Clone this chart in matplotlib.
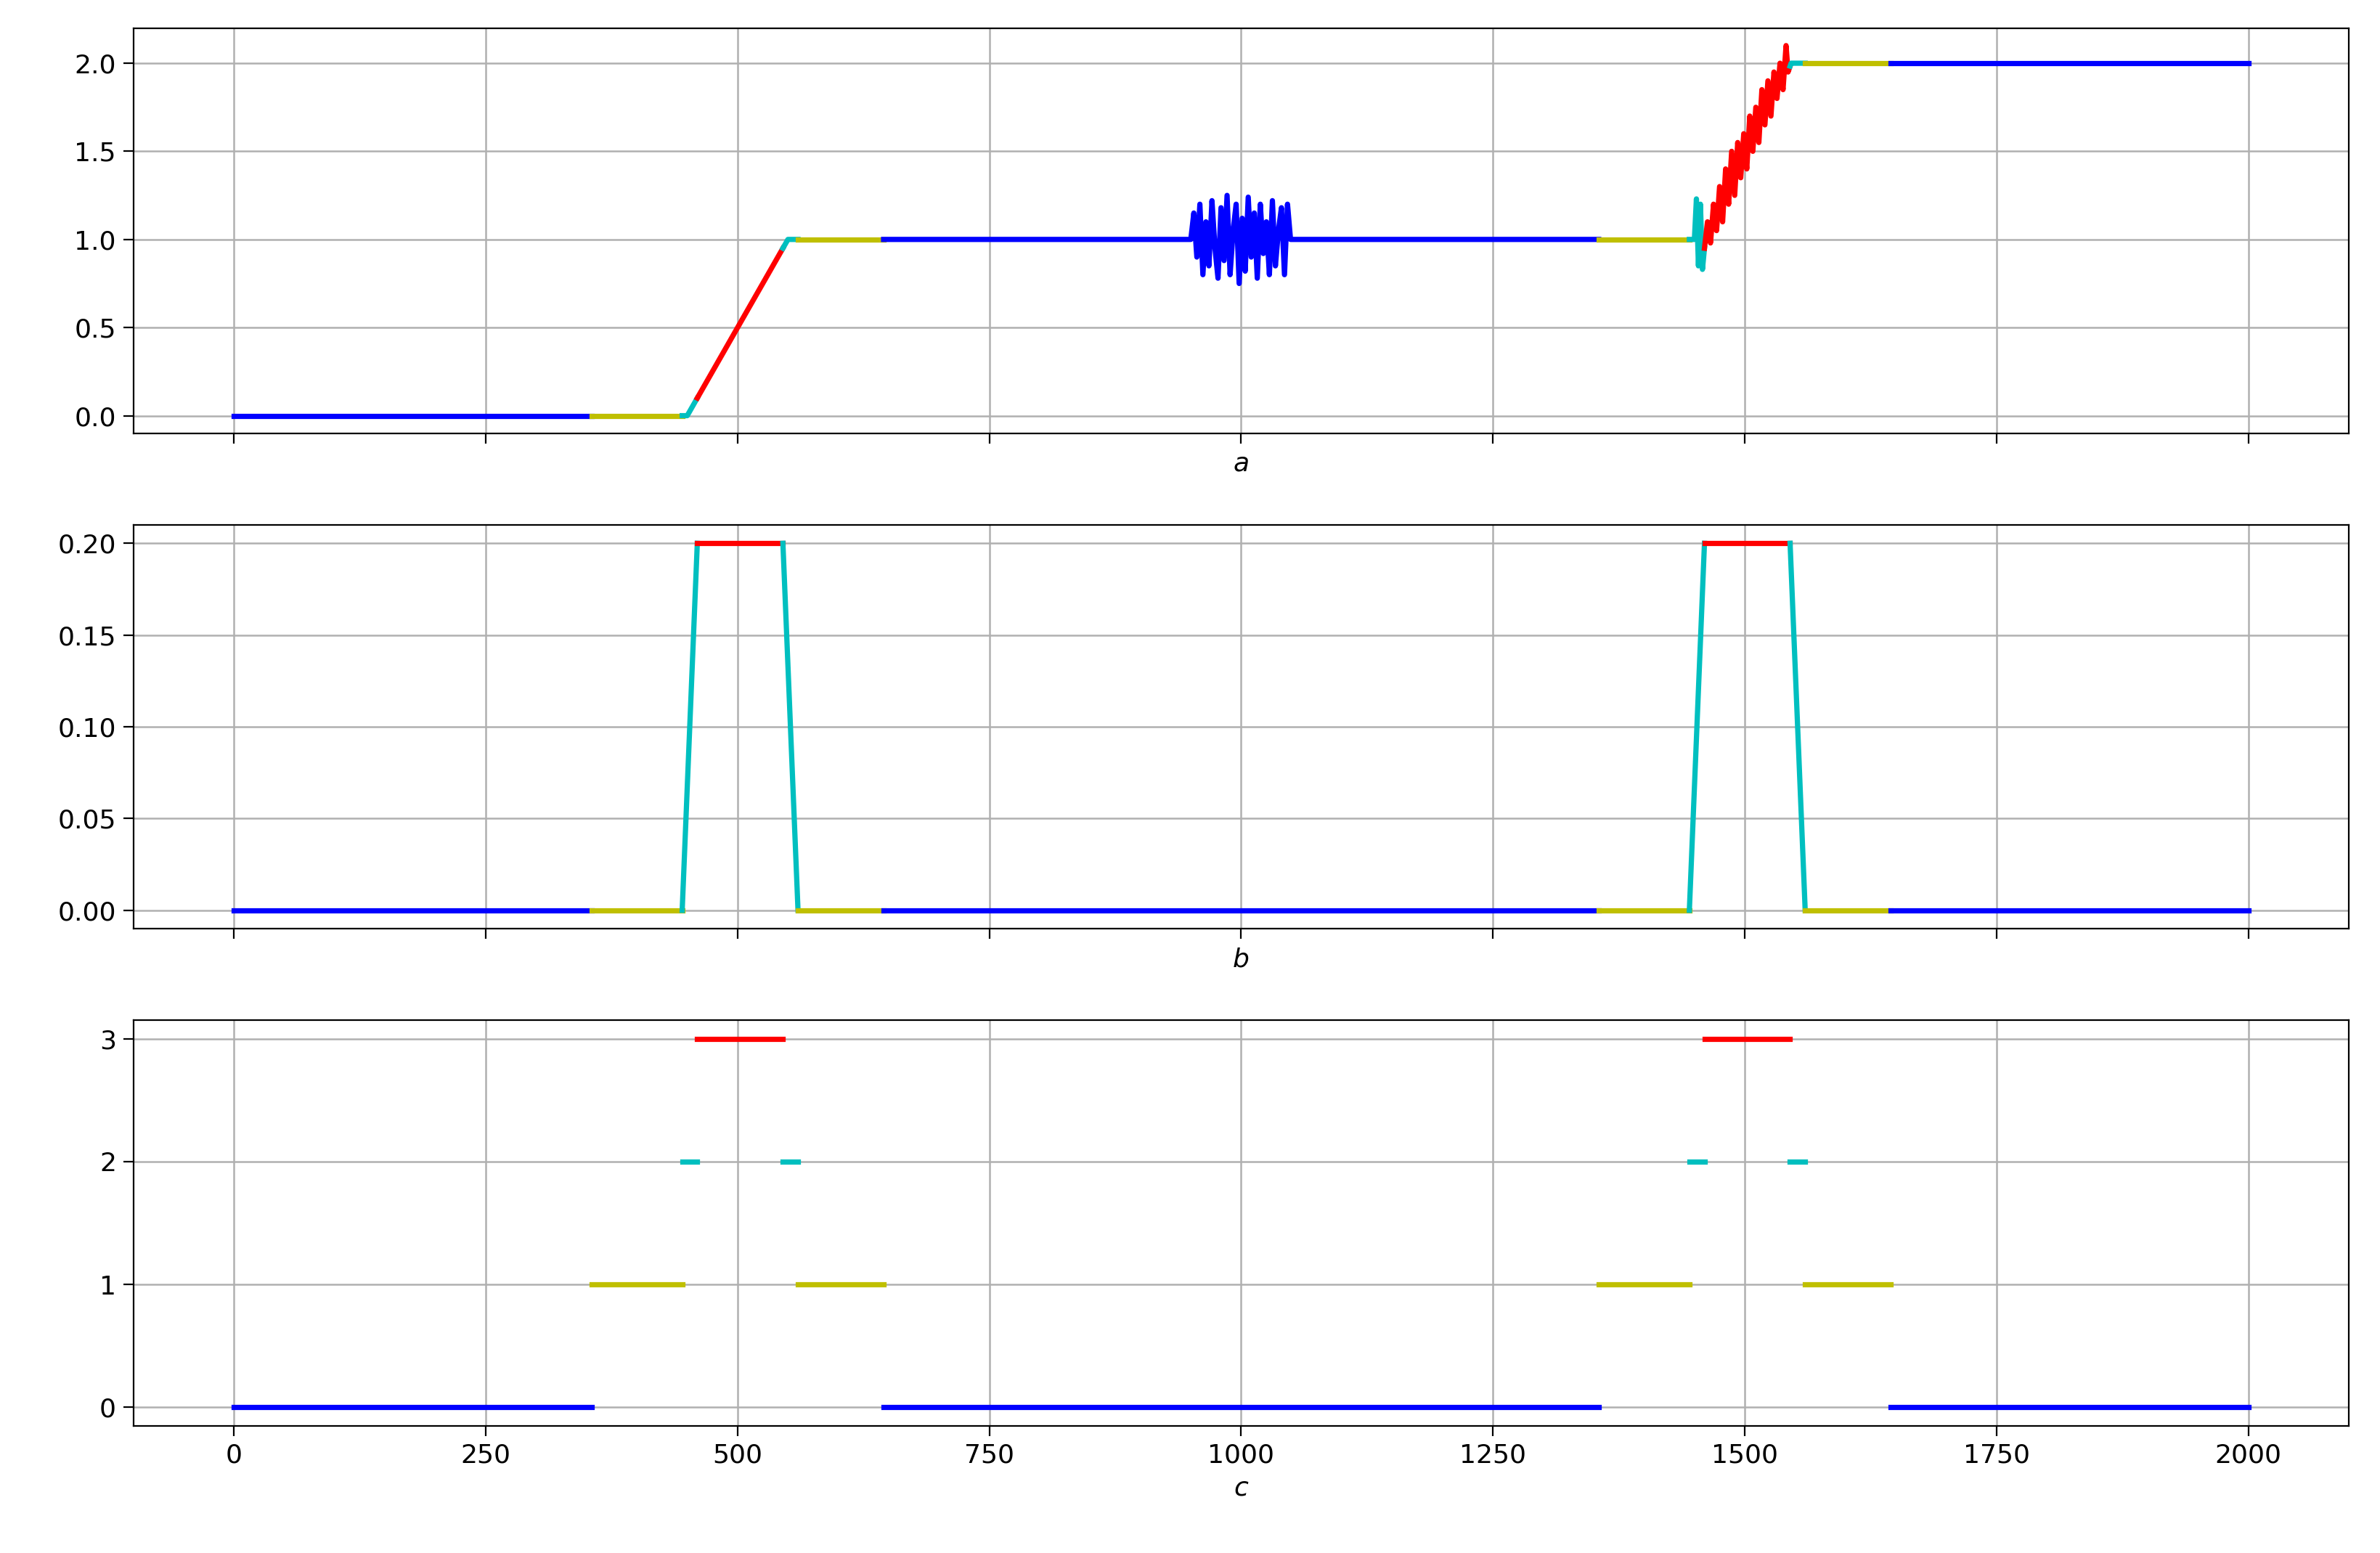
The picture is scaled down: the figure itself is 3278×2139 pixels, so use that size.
import numpy as np
import matplotlib
matplotlib.use("Agg")
import matplotlib.pyplot as plt

# state segments (start, end, state)
seg_start = [0, 355, 445, 460, 545, 560, 645, 1355, 1445, 1460, 1545, 1560, 1645]
seg_end   = [355, 445, 460, 545, 560, 645, 1355, 1445, 1460, 1545, 1560, 1645, 2000]
seg_state = [0, 1, 2, 3, 2, 1, 0, 1, 2, 3, 2, 1, 0]
state_colors = ['b', 'y', 'c', 'r']

# signal a keypoints
a_x = [0, 450, 550, 950, 1450, 1455, 1545, 2000]
a_y = [0.0, 0.0, 1.0, 1.0, 1.0, 1.0, 2.0, 2.0]
# noise around 950-1050 (blue)
n1_x = list(range(950, 1052, 3))
n1_off = [0.0, 0.15, -0.1, 0.2, -0.2, 0.1, -0.15, 0.22, -0.05, -0.22, 0.18, -0.12, 0.25,
          -0.2, 0.05, 0.2, -0.25, 0.12, -0.18, 0.24, -0.1, 0.15, -0.22, 0.2, -0.08, 0.1,
          -0.2, 0.22, -0.15, 0.05, 0.18, -0.2, 0.2, 0.0]
# noise on ramp 1450-1550
n2_x = [1450, 1452, 1454, 1456, 1458, 1460, 1463, 1466, 1469, 1472, 1475, 1478, 1481, 1484,
        1487, 1490, 1493, 1496, 1499, 1502, 1505, 1508, 1511, 1514, 1517, 1520, 1523, 1526,
        1529, 1532, 1535, 1538, 1541, 1543, 1546]
n2_y = [1.0, 1.23, 0.85, 1.2, 0.83, 0.95, 1.1, 0.98, 1.2, 1.05, 1.3, 1.1, 1.4, 1.2,
        1.5, 1.25, 1.55, 1.35, 1.6, 1.4, 1.7, 1.5, 1.75, 1.55, 1.85, 1.65, 1.9, 1.7,
        1.95, 1.8, 2.0, 1.85, 2.1, 1.95, 2.0]

# signal b keypoints
b_x = [0, 445, 460, 545, 560, 1445, 1460, 1545, 1560, 2000]
b_y = [0.0, 0.0, 0.2, 0.2, 0.0, 0.0, 0.2, 0.2, 0.0, 0.0]

# assemble signal a
ax_pts = list(a_x) + n1_x + n2_x
ay_pts = list(a_y) + [1.0 + o for o in n1_off] + n2_y
order = np.argsort(ax_pts, kind="stable")
A_x = np.array(ax_pts, float)[order]
A_y = np.array(ay_pts, float)[order]
keep = ~(((A_x > 950) & (A_x < 1051)) & ~np.isin(A_x, n1_x))
keep &= ~(((A_x >= 1450) & (A_x <= 1546)) & ~np.isin(A_x, n2_x))
A_x, A_y = A_x[keep], A_y[keep]
_, uidx = np.unique(A_x, return_index=True)
A_x, A_y = A_x[uidx], A_y[uidx]
B_x = np.array(b_x, float)
B_y = np.array(b_y, float)


def segment(xs, ys, s, e):
    m = (xs > s) & (xs < e)
    sx = np.concatenate([[s], xs[m], [e]])
    sy = np.concatenate([[np.interp(s, xs, ys)], ys[m], [np.interp(e, xs, ys)]])
    return sx, sy


fig = plt.figure(figsize=(16.39, 10.695), dpi=200)
L, W = 0.056, 0.931
axa = fig.add_axes([L, 0.721, W, 0.261])
axb = fig.add_axes([L, 0.402, W, 0.260], sharex=axa)
axc = fig.add_axes([L, 0.082, W, 0.261], sharex=axa)
lw = 2.6
for s, e, st in zip(seg_start, seg_end, seg_state):
    c = state_colors[st]
    x, y = segment(A_x, A_y, s, e)
    axa.plot(x, y, color=c, lw=lw)
    x, y = segment(B_x, B_y, s, e)
    axb.plot(x, y, color=c, lw=lw)
    axc.plot([s, e], [st, st], color=c, lw=lw)

axa.set_ylim(-0.1, 2.2)
axa.set_yticks([0, 0.5, 1.0, 1.5, 2.0])
axb.set_ylim(-0.01, 0.21)
axb.set_yticks([0, 0.05, 0.1, 0.15, 0.2])
axc.set_ylim(-0.15, 3.15)
axc.set_yticks([0, 1, 2, 3])
axa.set_xlim(-100, 2100)
axc.set_xticks(range(0, 2001, 250))
for ax, lab in zip([axa, axb, axc], ['a', 'b', 'c']):
    ax.grid(True, color='#b0b0b0', lw=0.9)
    ax.set_xlabel(lab, fontstyle='italic', fontsize=13)
    ax.tick_params(labelsize=13, length=5)
axa.tick_params(labelbottom=False)
axb.tick_params(labelbottom=False)
fig.savefig("out.png", dpi=200)
